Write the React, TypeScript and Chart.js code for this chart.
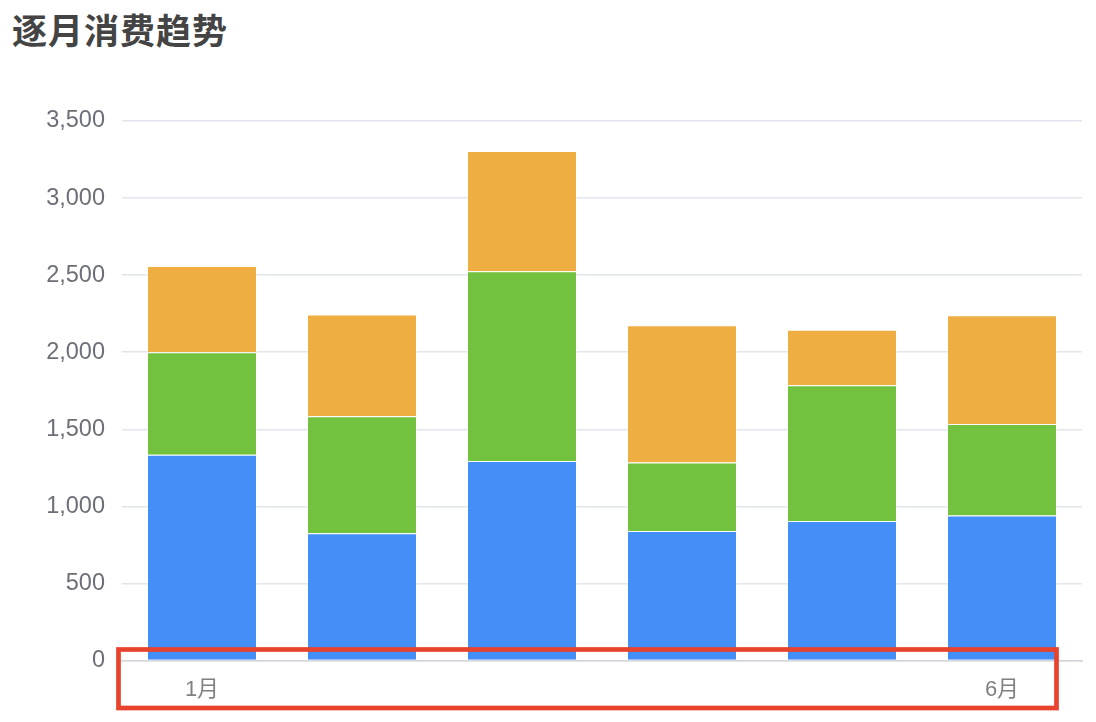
import React, { useEffect, useRef } from "react";
import { Chart, registerables } from "chart.js";

Chart.register(...registerables);

const categories = ["1月", "2月", "3月", "4月", "5月", "6月"];
const shownLabels = ["1月", "6月"];
const seriesBlue = [1335, 825, 1295, 840, 905, 940];
const seriesGreen = [665, 760, 1230, 445, 880, 595];
const seriesOrange = [560, 660, 780, 890, 360, 705];
const yMax = 3500;
const yStep = 500;

const highlightBox = {
  id: "highlightBox",
  afterDraw(chart: any) {
    const { ctx, chartArea } = chart;
    const x = chart.scales.x;
    const left = chartArea.left - 3.5;
    const right = x.getPixelForValue(categories.length - 1) + 54.5;
    const top = chartArea.bottom - 11;
    const bottom = chartArea.bottom + 47.5;
    ctx.save();
    ctx.strokeStyle = "#e8432d";
    ctx.lineWidth = 4.7;
    ctx.strokeRect(left, top, right - left, bottom - top);
    ctx.restore();
  },
};

export default function App() {
  const ref = useRef<HTMLCanvasElement>(null);
  useEffect(() => {
    if (!ref.current) return;
    const border = "rgba(255,255,255,0.55)";
    const chart = new Chart(ref.current, {
      type: "bar",
      data: {
        labels: categories,
        datasets: [
          { label: "A", data: seriesBlue, backgroundColor: "#438ff7", borderColor: border, borderWidth: 1 },
          { label: "B", data: seriesGreen, backgroundColor: "#73c23f", borderColor: border, borderWidth: 1 },
          { label: "C", data: seriesOrange, backgroundColor: "#efae41", borderColor: border, borderWidth: 1 },
        ],
      },
      options: {
        animation: false,
        responsive: true,
        maintainAspectRatio: false,
        layout: { padding: { top: 121, right: 14, left: 0, bottom: 0 } },
        plugins: { legend: { display: false }, tooltip: { enabled: false }, title: { display: false } },
        datasets: { bar: { barPercentage: 0.6875, categoryPercentage: 1 } } as any,
        scales: {
          x: {
            stacked: true,
            grid: { display: false, drawTicks: false },
            border: { display: true, color: "#d3d5dc", width: 1.5 },
            ticks: {
              color: "#808080",
              padding: 16,
              autoSkip: false,
              maxRotation: 0,
              font: { family: "'Liberation Sans', 'Noto Sans CJK SC'", size: 22 },
              callback: (_v: any, i: number) => (shownLabels.includes(categories[i]) ? categories[i] : ""),
            },
            afterFit: (s: any) => {
              s.height = 61.5;
            },
          },
          y: {
            stacked: true,
            min: 0,
            max: yMax,
            grid: {
              drawTicks: false,
              color: "#e2e5ee",
              lineWidth: 1.5,
            },
            border: { display: false },
            ticks: {
              stepSize: yStep,
              padding: 17,
              color: "#6c6f77",
              font: { family: "'Liberation Sans', 'Noto Sans'", size: 23.5 },
            },
            afterFit: (s: any) => {
              s.width = 122;
            },
          },
        },
      },
      plugins: [highlightBox],
    });
    return () => chart.destroy();
  }, []);

  return (
    <div style={{ position: "fixed", left: 0, top: 0, width: 1096, height: 722, background: "#fff" }}>
      <div
        style={{
          position: "absolute",
          left: 12,
          top: 10,
          fontFamily: "'Noto Sans CJK SC', sans-serif",
          fontWeight: 700,
          fontSize: 35,
          lineHeight: "37px",
          letterSpacing: "1px",
          color: "#444",
          whiteSpace: "nowrap",
        }}
      >
        逐月消费趋势
      </div>
      <canvas ref={ref} style={{ position: "absolute", left: 0, top: 0, width: 1096, height: 722 }} />
    </div>
  );
}
